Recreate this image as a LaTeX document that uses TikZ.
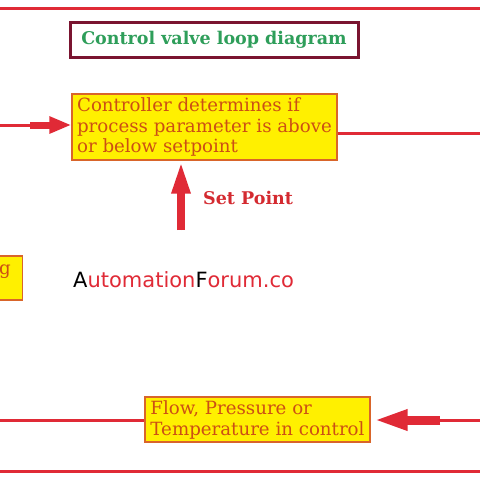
\documentclass[tikz,border=0pt]{standalone}
\usepackage{fontspec}
\setmainfont{DejaVu Serif}
\newfontfamily\logofont{DejaVu Sans}
\usetikzlibrary{arrows.meta}
\definecolor{linered}{HTML}{E02A36}
\definecolor{boxyellow}{HTML}{FFF000}
\definecolor{boxborder}{HTML}{D9652A}
\definecolor{boxtextc}{HTML}{CC4F14}
\definecolor{titlegreen}{HTML}{2E9E5A}
\definecolor{maroon}{HTML}{7A1430}
\definecolor{labelred}{HTML}{D42A30}
\tikzset{
  redline/.style={draw=linered, line width=3pt},
  blockarrow/.style={draw=linered, fill=linered, line width=7pt,
     -{Triangle[length=22pt,width=16pt]}},
  ybox/.style={draw=boxborder, fill=boxyellow, line width=1.3pt, inner sep=2pt,
     text=boxtextc, font=\fontsize{18.2}{20.5}\selectfont, align=left},
  titlebox/.style={draw=maroon, line width=3pt, fill=white, text=titlegreen,
     font=\fontsize{17.5}{20}\selectfont\bfseries, minimum width=288pt, minimum height=35pt},
  setlabel/.style={text=labelred, font=\fontsize{17.5}{20}\selectfont\bfseries},
  logo/.style={font=\logofont\fontsize{21}{24}\selectfont, text=linered}
}
\begin{document}
\begin{tikzpicture}[x=1pt,y=-1pt]
\useasboundingbox (0,0) rectangle (480,480);
\fill[white] (0,0) rectangle (480,480);
% frame lines
\draw[redline] (0,8) -- (480,8);
\draw[redline] (0,471) -- (480,471);
% title
\node[titlebox] (title) at (214,39.5) {Control valve loop diagram};
% controller box
\node[ybox, minimum width=265pt, minimum height=66pt] (ctrl) at (204.5,127)
  {Controller determines if\\process parameter is above\\or below setpoint};
% connectors at controller
\coordinate (L1) at (0,125);
\coordinate (L1s) at (30,125);
\draw[redline] (L1) -- (L1s);
\draw[blockarrow] (L1s) -- (ctrl.west |- L1);
\coordinate (R1) at (480,133);
\draw[redline] (ctrl.east |- R1) -- (R1);
% set point arrow
\coordinate (sp) at (181,230);
\draw[draw=linered, fill=linered, line width=8pt, -{Triangle[length=33pt,width=17pt]}] (sp) -- (sp |- ctrl.south);
\node[setlabel, anchor=base west, inner sep=0pt] (splabel) at (203,204) {Set Point};
% partial box at left
\node[ybox, minimum width=60pt, minimum height=44pt, anchor=east] (gbox) at (23,278) {};
\node[text=boxtextc, font=\fontsize{18.2}{21}\selectfont, anchor=base west, inner sep=0pt] (gtext) at (-1,274) {g};
% logo
\node[anchor=base west, inner sep=0pt, logo] (logo) at (73,287)
  {\textcolor{black}{A}utomation\textcolor{black}{F}orum.co};
% flow box
\node[ybox, font=\fontsize{18.2}{21}\selectfont, minimum width=225pt, minimum height=45pt] (flow) at (257.5,419.5)
  {Flow, Pressure or\\Temperature in control};
\coordinate (L2) at (0,420);
\draw[redline] (L2) -- (flow.west |- L2);
\coordinate (R2) at (480,420);
\coordinate (R2s) at (440,420);
\draw[redline] (R2) -- (R2s);
\draw[draw=linered, fill=linered, line width=9pt, -{Triangle[length=34pt,width=19pt]}, shorten >=3pt] (R2s) -- (flow.east |- R2);
\end{tikzpicture}
\end{document}
